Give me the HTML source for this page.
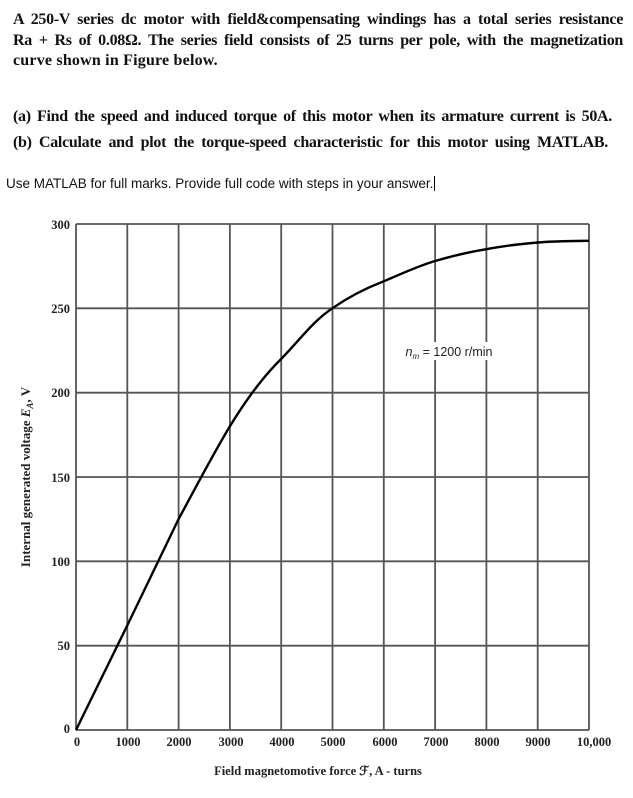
<!DOCTYPE html>
<html><head><meta charset="utf-8"><style>
html,body{margin:0;padding:0;background:#fff;}
body{width:633px;height:798px;position:relative;overflow:hidden;}
.t{position:absolute;font-family:"Liberation Serif",serif;font-weight:bold;font-size:16px;color:#111;white-space:nowrap;}
.j{width:610px;text-align:justify;text-align-last:justify;letter-spacing:-0.3px;word-spacing:-1px;}
</style></head><body>
<div class="t j" style="left:13px;top:11px;">A 250-V series dc motor with field&amp;compensating windings has a total series resistance</div>
<div class="t j" style="left:13px;top:32px;">Ra + Rs of 0.08Ω. The series field consists of 25 turns per pole, with the magnetization</div>
<div class="t" style="left:13px;top:52px;letter-spacing:0.2px">curve shown in Figure below.</div>
<div class="t j" style="left:13px;top:108px;width:599px">(a) Find the speed and induced torque of this motor when its armature current is 50A.</div>
<div class="t j" style="left:13px;top:134px;width:595px">(b) Calculate and plot the torque-speed characteristic for this motor using MATLAB.</div>
<div style="position:absolute;left:6px;top:176px;font-family:'Liberation Sans',sans-serif;font-size:13.5px;color:#111;white-space:nowrap;">Use MATLAB for full marks. Provide full code with steps in your answer.<span style="border-left:1px solid #000;margin-left:1px"></span></div>
<svg width="633" height="798" style="position:absolute;left:0;top:0" xmlns="http://www.w3.org/2000/svg">
<g stroke="#555" stroke-width="1.8" fill="none">
<line x1="76" y1="224" x2="589" y2="224"/>
<line x1="76" y1="308.3" x2="589" y2="308.3"/>
<line x1="76" y1="392.7" x2="589" y2="392.7"/>
<line x1="76" y1="477" x2="589" y2="477"/>
<line x1="76" y1="561.3" x2="589" y2="561.3"/>
<line x1="76" y1="645.7" x2="589" y2="645.7"/>
<line x1="76" y1="730" x2="589" y2="730"/>
<line x1="76" y1="224" x2="76" y2="730"/>
<line x1="127.3" y1="224" x2="127.3" y2="730"/>
<line x1="178.6" y1="224" x2="178.6" y2="730"/>
<line x1="229.9" y1="224" x2="229.9" y2="730"/>
<line x1="281.2" y1="224" x2="281.2" y2="730"/>
<line x1="332.5" y1="224" x2="332.5" y2="730"/>
<line x1="383.8" y1="224" x2="383.8" y2="730"/>
<line x1="435.1" y1="224" x2="435.1" y2="730"/>
<line x1="486.4" y1="224" x2="486.4" y2="730"/>
<line x1="537.7" y1="224" x2="537.7" y2="730"/>
<line x1="589" y1="224" x2="589" y2="730"/>
</g>
<rect x="394" y="342" width="110" height="18" fill="#fff"/>
<path d="M76,730 L127.3,625.4 L178.6,519 C195,489 212,456 229.9,426.3 C247,398 263,377 281.2,358.9 C298,342 314,320 332.5,308.2 C350,296 366,288 383.8,281.3 C401,274 418,266 435.1,261 C452,256 469,252 486.4,249.2 C503,246 520,244 537.7,242.5 C555,241 572,241 589,240.8" stroke="#000" stroke-width="2.4" fill="none"/>
<g font-family="Liberation Serif,serif" font-size="12.5" font-weight="bold" fill="#222" text-anchor="end">
<text x="70" y="229">300</text>
<text x="70" y="313">250</text>
<text x="70" y="397">200</text>
<text x="70" y="482">150</text>
<text x="70" y="566">100</text>
<text x="70" y="650">50</text>
<text x="70" y="733">0</text>
</g>
<g font-family="Liberation Serif,serif" font-size="12.5" font-weight="bold" fill="#222" text-anchor="middle">
<text x="77" y="746">0</text>
<text x="128" y="746">1000</text>
<text x="179" y="746">2000</text>
<text x="231" y="746">3000</text>
<text x="282" y="746">4000</text>
<text x="333" y="746">5000</text>
<text x="385" y="746">6000</text>
<text x="436" y="746">7000</text>
<text x="487" y="746">8000</text>
<text x="538" y="746">9000</text>
<text x="594" y="746">10,000</text>
<text x="318" y="775">Field magnetomotive force ℱ, A - turns</text>
<text x="449" y="356" font-family="Liberation Sans,sans-serif" font-weight="normal" font-size="12.5"><tspan font-style="italic">n</tspan><tspan font-size="8" dy="3" font-style="italic">m</tspan><tspan dy="-3"> = 1200 r/min</tspan></text>
<text transform="translate(30,477) rotate(-90)" font-size="13">Internal generated voltage <tspan font-style="italic">E</tspan><tspan font-size="9" dy="3" font-style="italic">A</tspan><tspan dy="-3">, V</tspan></text>
</g>
</svg>
</body></html>
